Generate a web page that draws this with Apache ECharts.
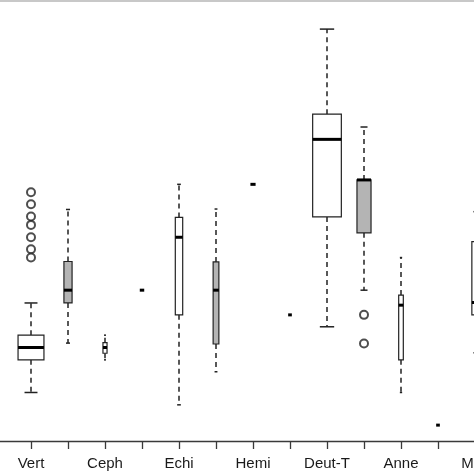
<!DOCTYPE html>
<html>
<head>
<meta charset="utf-8">
<script src="https://cdn.jsdelivr.net/npm/echarts@6/dist/echarts.min.js"></script>
<style>
html,body{margin:0;padding:0;width:474px;height:474px;overflow:hidden;background:#fff;}
#chart{position:absolute;left:-37px;top:0;width:640px;height:474px;}
</style>
</head>
<body>
<div id="chart"></div>
<script>
// ---- Data (y units arbitrary 0..100) ----
const groups = ['Vert', 'Ceph', 'Echi', 'Hemi', 'Deut-T', 'Anne', 'Moll'];
// box slots: for each group, a white box then a grey box
const lowerWhisker = [11.0, 22.2, 18.4, 34.2, 8.2, 15.7, 58.2, 28.6, 25.9, 34.2, 11.0, 3.6, 20.0];
const q1           = [18.4, 31.3, 19.9, 34.2, 28.6, 22.0, 58.2, 28.6, 50.8, 47.2, 18.4, 3.6, 28.6];
const median       = [21.2, 34.2, 21.2, 34.2, 46.2, 34.2, 58.2, 28.6, 68.4, 59.2, 30.8, 3.6, 31.4];
const q3           = [24.0, 40.7, 22.3, 34.2, 50.7, 40.6, 58.2, 28.6, 74.1, 59.2, 33.1, 3.6, 45.2];
const upperWhisker = [31.3, 52.5, 24.0, 34.2, 58.2, 52.6, 58.2, 28.6, 93.4, 71.2, 41.6, 3.6, 52.0];
const outlierSlot  = [0, 0, 0, 0, 0, 0, 0, 9, 9];
const outlierValue = [56.4, 53.7, 50.9, 49.0, 46.2, 43.5, 41.6, 28.6, 22.1];

// ---- Styles (box width as a fraction of the category band) ----
const boxWidthFrac = [0.70, 0.22, 0.11, 0.12, 0.20, 0.155, 0.14, 0.10, 0.775, 0.38, 0.125, 0.10, 0.17];
const whiteFill = '#ffffff';
const greyFill = '#b4b4b4';

// category axis: a leading blank slot, then group label + blank per pair
const axisCats = [''];
groups.forEach(g => { axisCats.push(g); axisCats.push(''); });

const boxData = lowerWhisker.map((lo, i) => [i + 1, lo, q1[i], median[i], q3[i], upperWhisker[i]]);
const outlierData = outlierSlot.map((s, i) => [s + 1, outlierValue[i]]);

function renderItem(params, api) {
  const i = params.dataIndex;
  const x = api.value(0);
  const lo = api.value(1), a = api.value(2), md = api.value(3), b = api.value(4), hi = api.value(5);
  const band = api.size([1, 0])[0];
  const w = band * boxWidthFrac[i];
  const cx = api.coord([x, md])[0];
  const y = v => api.coord([x, v])[1];
  const yLo = y(lo), yQ1 = y(a), yMd = y(md), yQ3 = y(b), yHi = y(hi);
  const ink = '#222';
  const children = [];
  if (hi > b) {
    children.push({ type: 'line', shape: { x1: cx, y1: yQ3, x2: cx, y2: yHi },
      style: { stroke: ink, lineWidth: 1.5, lineDash: [5, 4] } });
    children.push({ type: 'line', shape: { x1: cx - w / 4, y1: yHi, x2: cx + w / 4, y2: yHi },
      style: { stroke: ink, lineWidth: 1.5 } });
  }
  if (lo < a) {
    children.push({ type: 'line', shape: { x1: cx, y1: yQ1, x2: cx, y2: yLo },
      style: { stroke: ink, lineWidth: 1.5, lineDash: [5, 4] } });
    children.push({ type: 'line', shape: { x1: cx - w / 4, y1: yLo, x2: cx + w / 4, y2: yLo },
      style: { stroke: ink, lineWidth: 1.5 } });
  }
  if (b > a) {
    children.push({ type: 'rect', shape: { x: cx - w / 2, y: yQ3, width: w, height: yQ1 - yQ3 },
      style: { fill: (i % 2 === 0) ? whiteFill : greyFill, stroke: ink, lineWidth: 1.2 } });
  }
  children.push({ type: 'line', shape: { x1: cx - w / 2, y1: yMd, x2: cx + w / 2, y2: yMd },
    style: { stroke: '#000', lineWidth: 3 } });
  return { type: 'group', children: children };
}

const chart = echarts.init(document.getElementById('chart'), null, { renderer: 'canvas' });
chart.setOption({
  animation: false,
  backgroundColor: '#ffffff',
  graphic: [{ type: 'rect', shape: { x: 0, y: 0, width: 700, height: 2 }, style: { fill: '#c8c8c8' }, silent: true }],
  grid: { left: 12.5, right: 640 - 12.5 - 37 * axisCats.length, top: 0, bottom: 33 },
  xAxis: {
    type: 'category',
    data: axisCats,
    boundaryGap: true,
    axisLine: { lineStyle: { color: '#3a3a3a', width: 1.3 } },
    axisTick: { show: true, interval: 0, alignWithLabel: true, length: 8, lineStyle: { color: '#3a3a3a', width: 1.3 } },
    axisLabel: { interval: 0, margin: 15, fontSize: 15, color: '#1a1a1a', fontFamily: 'Liberation Sans, Arial, sans-serif' },
    splitLine: { show: false }
  },
  yAxis: {
    type: 'value', min: 0, max: 100, show: false, splitLine: { show: false }
  },
  series: [
    {
      type: 'custom',
      renderItem: renderItem,
      data: boxData,
      encode: { x: 0, y: [1, 2, 3, 4, 5] },
      clip: false
    },
    {
      type: 'scatter',
      data: outlierData,
      symbol: 'emptyCircle',
      symbolSize: 8,
      itemStyle: { color: '#222', borderColor: '#222', borderWidth: 1.2 }
    }
  ]
});
</script>
</body>
</html>
